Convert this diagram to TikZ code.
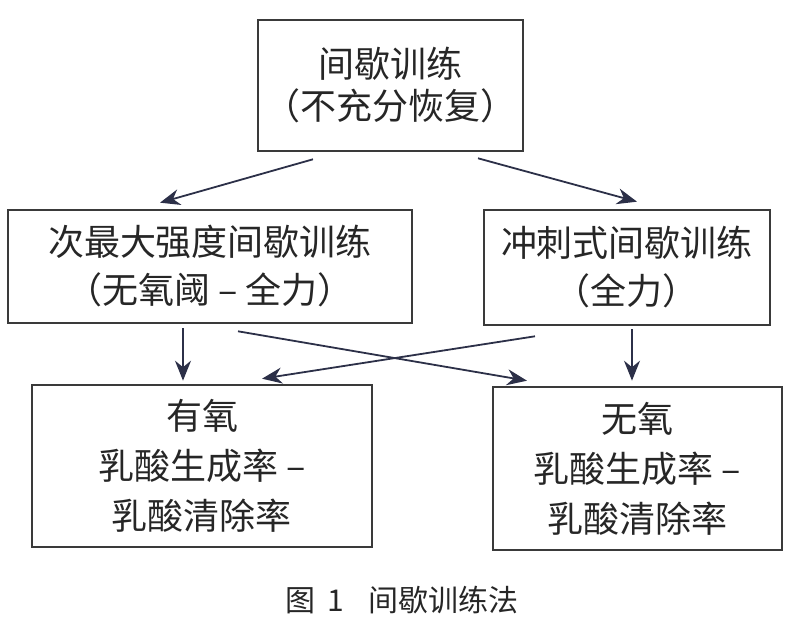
\documentclass[tikz,border=0pt]{standalone}
\usepackage{fontspec}
\setmainfont{Noto Sans CJK SC}
\usetikzlibrary{calc,arrows.meta}
\definecolor{boxc}{HTML}{3A3A3A}
\definecolor{arrc}{HTML}{2C3048}
\definecolor{txtc}{HTML}{262626}
\tikzset{
  box/.style={draw=boxc, line width=1.3pt, align=center, text=txtc, inner sep=0pt},
  arr/.style={draw=arrc, line width=0.9pt, -{Stealth[length=10pt,width=8pt]}},
}
\begin{document}
\begin{tikzpicture}[x=0.5pt,y=-0.5pt]
\useasboundingbox (0,0) rectangle (800,619);
\node[box, minimum width=132.5pt, minimum height=65.5pt, font=\fontsize{18}{21}\selectfont] (top) at (390.5,85.5) {间歇训练\\（不充分恢复）};
\node[box, minimum width=202pt, minimum height=56.5pt, font=\fontsize{18}{24}\selectfont] (lm) at (210,266.5) {次最大强度间歇训练\\（无氧阈 – 全力）};
\node[box, minimum width=143pt, minimum height=57.5pt, font=\fontsize{18}{24}\selectfont] (rm) at (627,267.5) {冲刺式间歇训练\\（全力）};
\node[box, minimum width=170pt, minimum height=81pt, font=\fontsize{18}{25}\selectfont] (bl) at (202,466) {有氧\\乳酸生成率 –\\乳酸清除率};
\node[box, minimum width=144.5pt, minimum height=81.5pt, font=\fontsize{18}{25}\selectfont] (br) at (637.5,468.5) {无氧\\乳酸生成率 –\\乳酸清除率};
\node[text=txtc, font=\fontsize{15}{17}\selectfont] (cap) at (402,600) {图\hspace{6pt}1\hspace{12pt}间歇训练法};
\draw[arr] ($(top.south)+(-77.5,7)$) -- ($(lm.north)+(-50,-6)$);
\draw[arr] ($(top.south)+(87.5,6)$) -- ($(rm.north)+(10,-7)$);
\draw[arr] ($(lm.south)+(-27,4)$) -- ($(bl.north)+(-19,-3)$);
\draw[arr] ($(rm.south)+(5,3)$) -- ($(br.north)+(-5.5,-5)$);
\draw[arr] ($(lm.south)+(28,7)$) -- ($(br.north)+(-110.5,-5)$);
\draw[arr] ($(rm.south)+(-92,10)$) -- ($(bl.north)+(60,-5)$);
\end{tikzpicture}
\end{document}
